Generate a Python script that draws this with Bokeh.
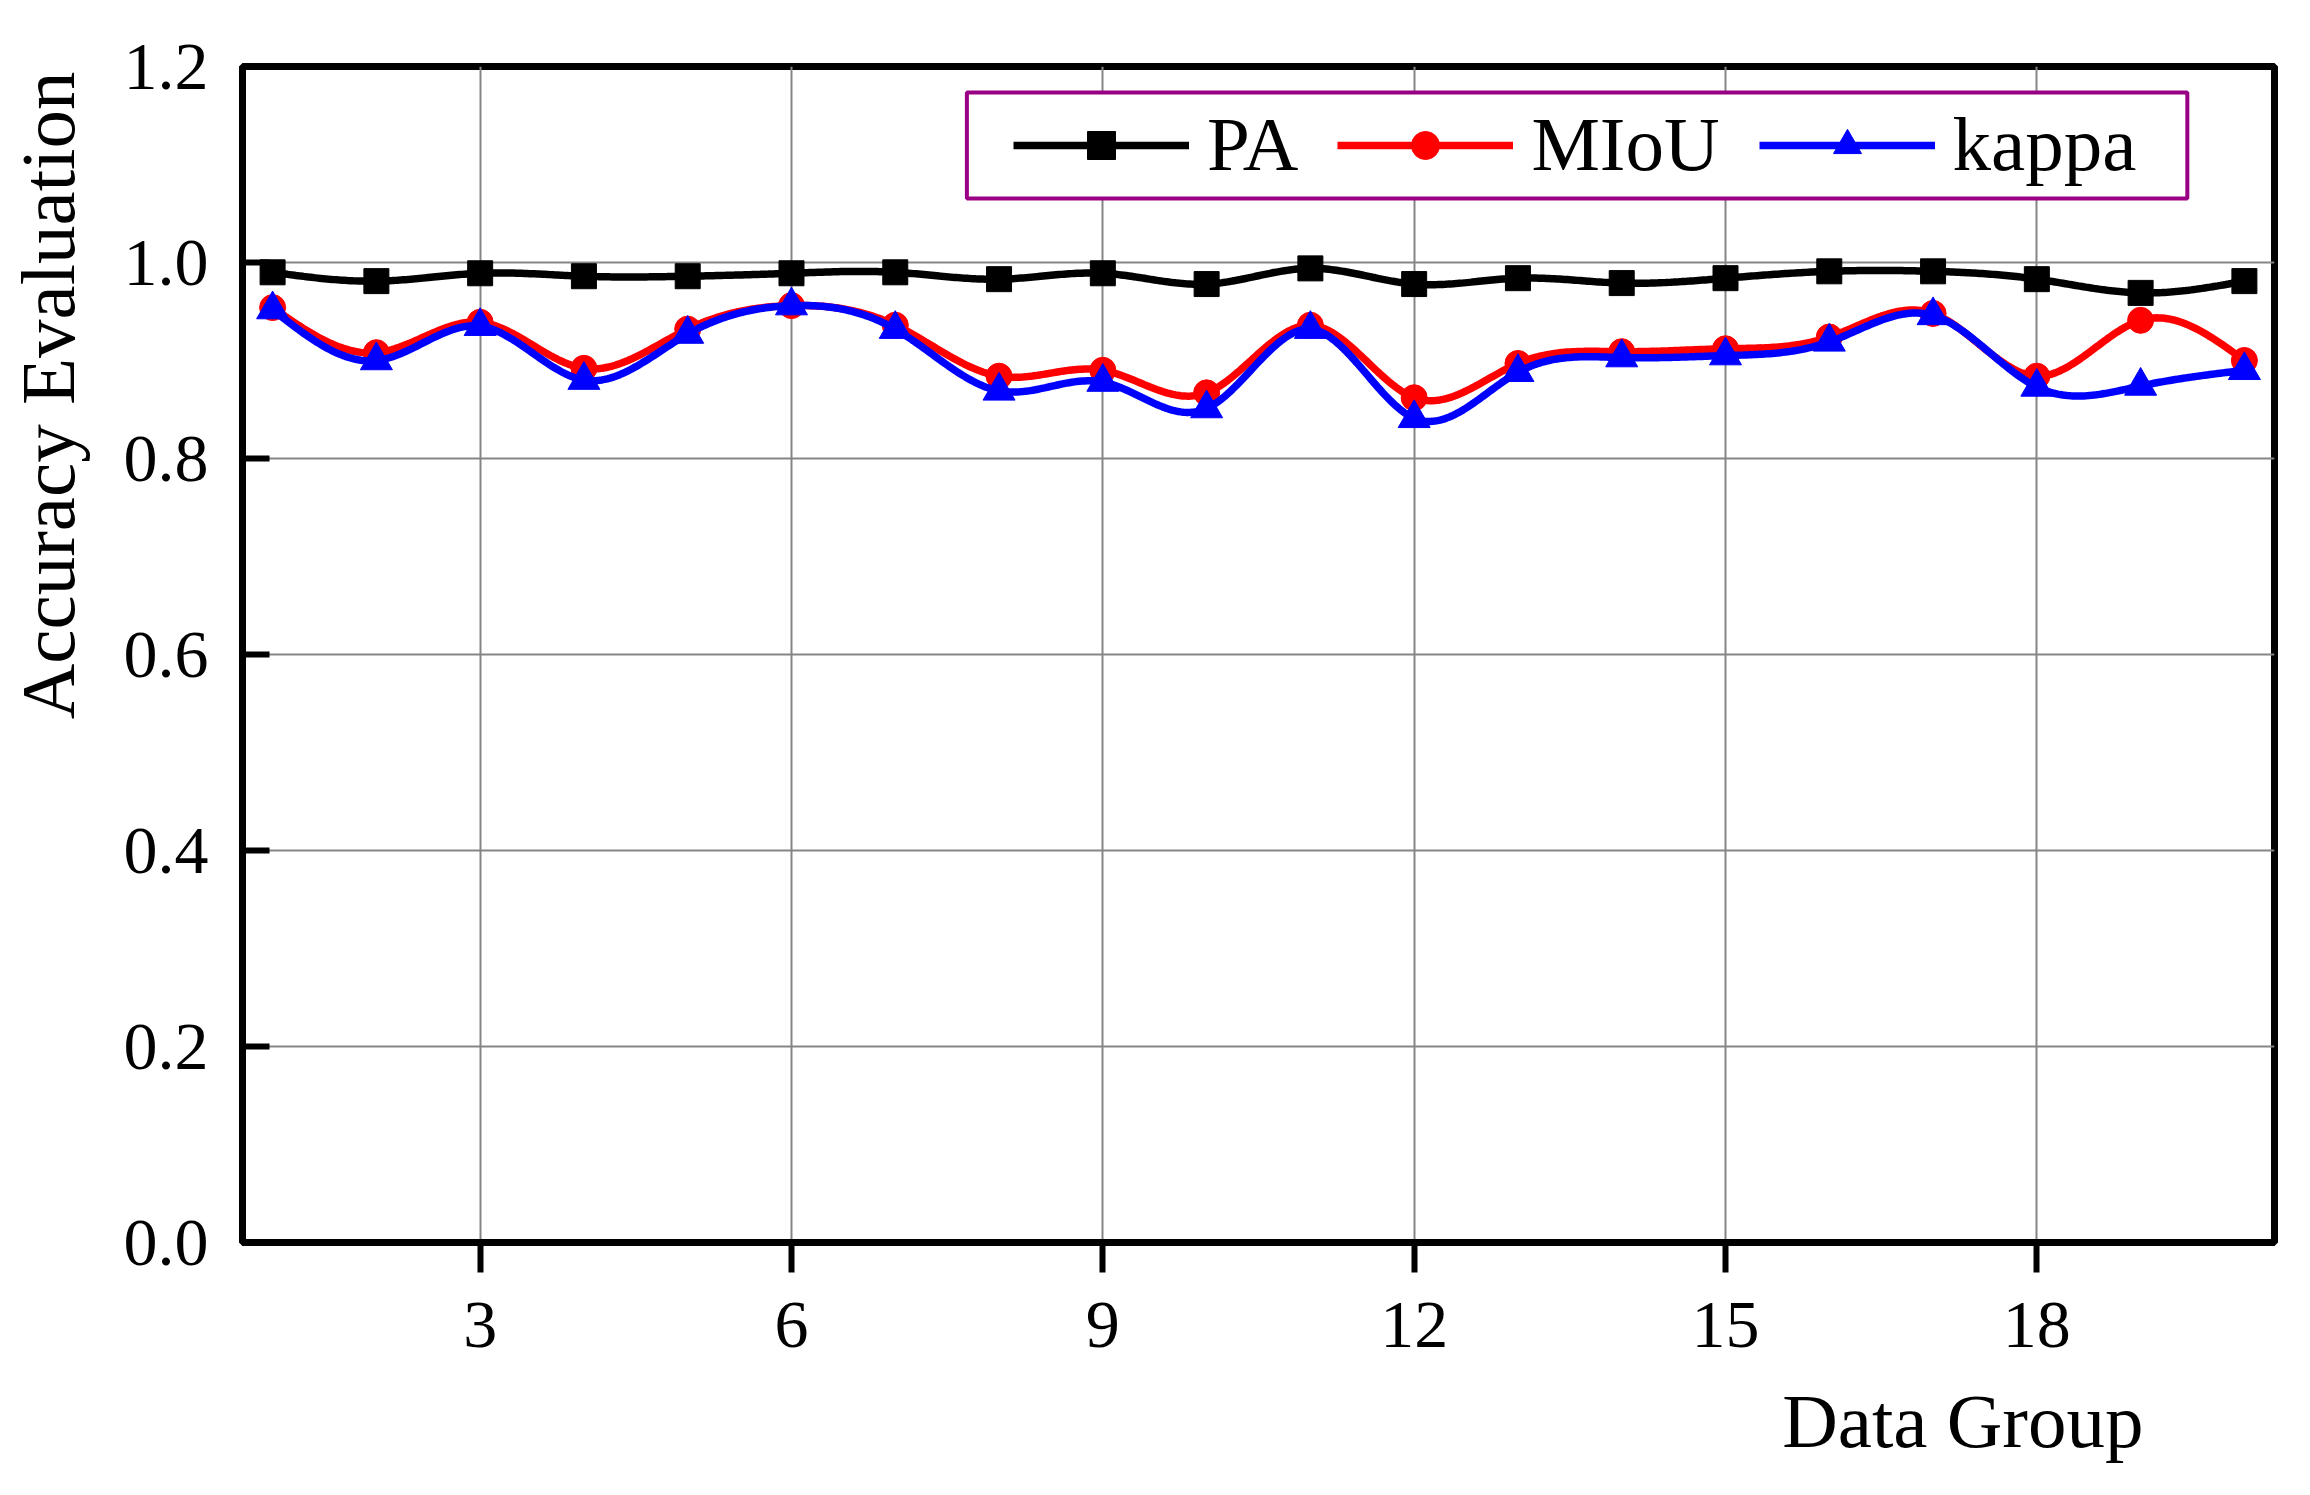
import numpy as np
from bokeh.plotting import figure
from bokeh.models import FixedTicker, PrintfTickFormatter, Range1d, Legend, Title, BoxAnnotation
from bokeh.embed import file_html
from bokeh.resources import INLINE

groups = list(range(1, 21))
pa = [0.990, 0.981, 0.989, 0.986, 0.986, 0.989, 0.990, 0.983, 0.989, 0.978,
      0.994, 0.978, 0.984, 0.979, 0.984, 0.991, 0.991, 0.983, 0.969, 0.981]
miou = [0.954, 0.908, 0.939, 0.892, 0.932, 0.956, 0.936, 0.884, 0.890, 0.867,
        0.936, 0.862, 0.897, 0.909, 0.912, 0.924, 0.948, 0.884, 0.941, 0.900]
kappa = [0.952, 0.900, 0.935, 0.880, 0.927, 0.956, 0.932, 0.869, 0.878, 0.851,
         0.932, 0.841, 0.888, 0.903, 0.905, 0.919, 0.946, 0.873, 0.874, 0.890]
x_ticks = [3, 6, 9, 12, 15, 18]
y_ticks = [0.0, 0.2, 0.4, 0.6, 0.8, 1.0, 1.2]
series_names = ["PA", "MIoU", "kappa"]


def natural_spline(xs, ys, per=40):
    xs = np.asarray(xs, float)
    ys = np.asarray(ys, float)
    n = len(xs)
    h = np.diff(xs)
    A = np.zeros((n, n))
    b = np.zeros(n)
    A[0, 0] = A[-1, -1] = 1.0
    for i in range(1, n - 1):
        A[i, i - 1] = h[i - 1]
        A[i, i] = 2 * (h[i - 1] + h[i])
        A[i, i + 1] = h[i]
        b[i] = 6 * ((ys[i + 1] - ys[i]) / h[i] - (ys[i] - ys[i - 1]) / h[i - 1])
    M = np.linalg.solve(A, b)
    ox, oy = [], []
    for i in range(n - 1):
        t = np.linspace(xs[i], xs[i + 1], per, endpoint=(i == n - 2))
        a = xs[i + 1] - t
        c = t - xs[i]
        s = (M[i] * a ** 3 + M[i + 1] * c ** 3) / (6 * h[i]) \
            + (ys[i] / h[i] - M[i] * h[i] / 6) * a \
            + (ys[i + 1] / h[i] - M[i + 1] * h[i] / 6) * c
        ox.extend(t.tolist())
        oy.extend(s.tolist())
    return ox, oy


FONT = "Liberation Serif"

p = figure(width=2292, height=1494, output_backend="svg", toolbar_location=None,
           x_range=Range1d(0.71, 20.29), y_range=Range1d(0.0, 1.2),
           min_border_left=234, min_border_right=18, min_border_top=66, min_border_bottom=252)
p.background_fill_color = "white"
p.border_fill_color = "white"
p.outline_line_color = "black"
p.outline_line_width = 7

# axes
p.xaxis.ticker = FixedTicker(ticks=x_ticks)
p.yaxis.ticker = FixedTicker(ticks=y_ticks)
p.yaxis.formatter = PrintfTickFormatter(format="%.1f")
for ax in (p.xaxis, p.yaxis):
    ax.axis_line_color = "black"
    ax.axis_line_width = 7
    ax.major_tick_line_color = "black"
    ax.major_tick_line_width = 6
    ax.minor_tick_line_color = None
    ax.major_label_text_font = FONT
    ax.major_label_text_font_size = "68px"
    ax.major_label_text_color = "black"
p.xaxis.major_tick_out = 30
p.xaxis.major_tick_in = 0
p.xaxis.major_label_standoff = 30
p.yaxis.major_tick_in = 27
p.yaxis.major_tick_out = 0
p.yaxis.major_label_standoff = 34

p.xgrid.ticker = FixedTicker(ticks=x_ticks)
p.ygrid.ticker = FixedTicker(ticks=y_ticks)
for g in (p.xgrid, p.ygrid):
    g.grid_line_color = "#858585"
    g.grid_line_width = 2

# legend frame (drawn under the legend entries)
legend_box = BoxAnnotation(left=7.69, right=19.45, bottom=1.0653, top=1.1735,
                           fill_color="white", fill_alpha=1.0,
                           line_color="#990085", line_width=4, line_alpha=1.0,
                           level="annotation")
p.add_layout(legend_box)

# series
colors = ["#000000", "#FF0000", "#0000FF"]
markers = ["square", "circle", "triangle"]
sizes = [25, 26, 32]
data = [pa, miou, kappa]
items = []
for name, vals, col, mk, sz in zip(series_names, data, colors, markers, sizes):
    sx, sy = natural_spline(groups, vals)
    r1 = p.line(sx, sy, line_color=col, line_width=7.5)
    r2 = p.scatter(groups, vals, marker=mk, size=sz, fill_color=col, line_color=col)
    items.append((name, [r1, r2]))

legend = Legend(items=items, orientation="horizontal", location=(771, 1053))
legend.margin = 0
legend.padding = 0
legend.spacing = 39
legend.glyph_width = 176
legend.glyph_height = 70
legend.label_standoff = 18
legend.label_text_font = FONT
legend.label_text_font_size = "77px"
legend.label_text_color = "black"
legend.border_line_color = None
legend.background_fill_alpha = 0.0
p.add_layout(legend)

# axis titles (a thin spacer keeps the y title out at the left edge)
spacer = Title(text=" ", text_font_size="1px", standoff=25)
ytitle = Title(text="Accuracy Evaluation", align="right", offset=5, standoff=4,
               text_font=FONT, text_font_size="77px", text_font_style="normal",
               text_color="black")
xtitle = Title(text="Data Group", align="right", offset=131, standoff=53,
               text_font=FONT, text_font_size="77px", text_font_style="normal",
               text_color="black")
p.add_layout(spacer, "left")
p.add_layout(ytitle, "left")
p.add_layout(xtitle, "below")

open("out.html", "w").write(file_html(p, INLINE))
